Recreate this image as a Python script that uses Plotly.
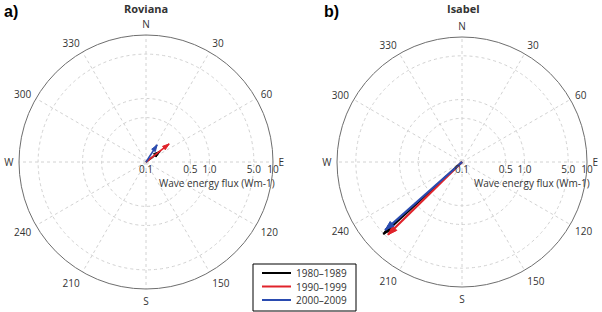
import plotly.graph_objects as go

# ---- data ----
periods = ["1980–1989", "1990–1999", "2000–2009"]
colors = ["#000000", "#e0232a", "#2a4bb0"]
roviana_dir = [53, 52, 33]          # degrees clockwise from north
roviana_flux = [0.19, 0.29, 0.21]   # Wm-1
isabel_dir = [227.5, 225.5, 228.5]
isabel_flux = [5.1, 4.6, 4.4]
origin_flux = 0.1
angle_vals = [0, 30, 60, 90, 120, 150, 180, 210, 240, 270, 300, 330]
angle_text = ["N", "30", "60", "E", "120", "150", "S", "210", "240", "W", "300", "330"]
radial_vals = [0.1, 0.5, 1, 5, 10]
radial_text = ["0.1", "0.5", "1.0", "5.0", "10"]
radial_title = "Wave energy flux (Wm-1)"

W, H = 602, 312
FONT = "Open Sans"

fig = go.Figure()

def add_arrows(dirs, fluxes, subplot, width, head):
    for name, col, d, f in zip(periods, colors, dirs, fluxes):
        fig.add_trace(go.Scatterpolar(
            r=[origin_flux, f], theta=[d, d], mode="lines",
            line=dict(color=col, width=width),
            name=name, showlegend=False,
            subplot=subplot, hoverinfo="skip"))
        fig.add_trace(go.Scatterpolar(
            r=[f], theta=[d], mode="markers",
            marker=dict(symbol="arrow", size=head, color=col, angle=d,
                        line=dict(width=1, color=col)),
            name=name, showlegend=False,
            subplot=subplot, hoverinfo="skip"))

add_arrows(roviana_dir, roviana_flux, "polar", 1.6, 7)
add_arrows(isabel_dir, isabel_flux, "polar2", 2.2, 10)

def polar_layout(xd, yd):
    return dict(
        domain=dict(x=xd, y=yd),
        bgcolor="white",
        angularaxis=dict(
            rotation=90, direction="clockwise",
            tickmode="array", tickvals=angle_vals, ticktext=angle_text,
            ticks="outside", ticklen=3, tickcolor="rgba(0,0,0,0)",
            showline=True, linecolor="#6e6e6e", linewidth=1,
            showgrid=True, gridcolor="#d2d2d2", griddash="dot", gridwidth=1,
            tickfont=dict(family=FONT, size=10, color="#333"),
        ),
        radialaxis=dict(
            type="log", range=[-1, 1], angle=0, side="clockwise",
            tickangle=0, ticks="", ticklen=0,
            tickmode="array", tickvals=radial_vals, ticktext=radial_text,
            showline=False,
            showgrid=True, gridcolor="#d2d2d2", griddash="dot", gridwidth=1,
            tickfont=dict(family=FONT, size=10, color="#333"),
        ),
    )

def px(x):
    return x / W

def py(y):
    return 1 - y / H

# legend (box, sample lines, labels) in paper coordinates
legend_box = dict(x0=253, x1=356, y0=264, y1=311)
legend_rows = [273, 286.5, 300]
shapes = [dict(type="rect", xref="paper", yref="paper",
               x0=px(legend_box["x0"]), x1=px(legend_box["x1"]),
               y0=py(legend_box["y1"]), y1=py(legend_box["y0"]),
               line=dict(color="black", width=1), fillcolor="white")]
annotations = []
for name, col, yrow in zip(periods, colors, legend_rows):
    shapes.append(dict(type="line", xref="paper", yref="paper",
                       x0=px(262), x1=px(291), y0=py(yrow), y1=py(yrow),
                       line=dict(color=col, width=2)))
    annotations.append(dict(text=name, x=px(295), y=py(yrow), xref="paper",
                            yref="paper", xanchor="left", yanchor="middle",
                            showarrow=False, borderpad=0,
                            font=dict(family=FONT, size=10, color="#333")))

for xc in (217, 532):
    annotations.append(dict(text=radial_title, x=px(xc), y=py(183),
                            xref="paper", yref="paper", xanchor="center",
                            yanchor="middle", showarrow=False, borderpad=0,
                            font=dict(family=FONT, size=10, color="#333")))

annotations += [
    dict(text="<b>a)</b>", x=px(2), y=py(12), xref="paper", yref="paper",
         xanchor="left", yanchor="middle", showarrow=False,
         font=dict(family="Liberation Sans", size=16, color="black")),
    dict(text="<b>b)</b>", x=px(322), y=py(12), xref="paper", yref="paper",
         xanchor="left", yanchor="middle", showarrow=False,
         font=dict(family="Liberation Sans", size=16, color="black")),
    dict(text="<b>Roviana</b>", x=px(146), y=py(8), xref="paper", yref="paper",
         xanchor="center", yanchor="middle", showarrow=False,
         font=dict(family=FONT, size=11, color="#333")),
    dict(text="<b>Isabel</b>", x=px(463), y=py(8), xref="paper", yref="paper",
         xanchor="center", yanchor="middle", showarrow=False,
         font=dict(family=FONT, size=11, color="#333")),
]

fig.update_layout(
    width=W, height=H, margin=dict(l=0, r=0, t=0, b=0),
    paper_bgcolor="white", plot_bgcolor="white",
    font=dict(family=FONT, size=10, color="#333"),
    polar=polar_layout([px(19), px(273)], [py(289), py(35)]),
    polar2=polar_layout([px(337), px(587)], [py(287), py(37)]),
    showlegend=False,
    shapes=shapes,
    annotations=annotations,
)

fig.write_html("out.html", config={"displayModeBar": False},
               post_script="document.body.style.margin='0';")
